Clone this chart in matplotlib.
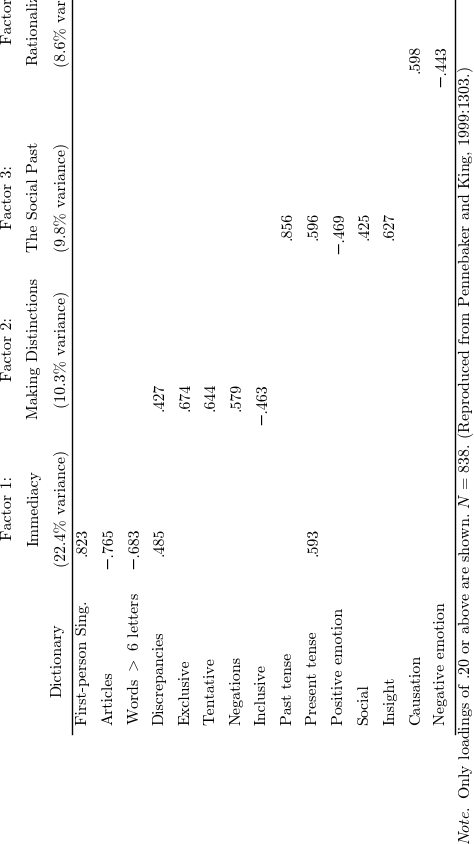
import matplotlib
matplotlib.use('Agg')
import matplotlib.pyplot as plt

plt.rcParams['mathtext.fontset'] = 'cm'
plt.rcParams['axes.unicode_minus'] = False

dictionaries = ['First-person Sing.', 'Articles', 'Words $>$ 6 letters', 'Discrepancies',
                'Exclusive', 'Tentative', 'Negations', 'Inclusive', 'Past tense',
                'Present tense', 'Positive emotion', 'Social', 'Insight', 'Causation',
                'Negative emotion']
factor_titles = ['Factor 1:', 'Factor 2:', 'Factor 3:', 'Factor 4:']
factor_names = ['Immediacy', 'Making Distinctions', 'The Social Past', 'Rationalization']
factor_variance = ['(22.4% variance)', '(10.3% variance)', '(9.8% variance)', '(8.6% variance)']
factor1 = ['.823', '-.765', '-.683', '.485', None, None, None, None, None, '.593',
           None, None, None, None, None]
factor2 = [None, None, None, '.427', '.674', '.644', '.579', '-.463', None, None,
           None, None, None, None, None]
factor3 = [None, None, None, None, None, None, None, None, '.856', '.596',
           '-.469', '.425', '.627', None, None]
factor4 = [None, None, None, None, None, None, None, None, None, None,
           None, None, None, '.598', '-.443']
note = (r'$\it{Note.}$ Only loadings of .20 or above are shown. $N$ = 838. '
        '(Reproduced from Pennebaker and King, 1999:1303.)')

FONT = ['cmr10', 'DejaVu Serif']
FS = 11.5

fig = plt.figure(figsize=(4.74, 8.45), dpi=100)
ax = fig.add_axes([0, 0, 1, 1])
ax.set_xlim(0, 474)
ax.set_ylim(845, 0)
ax.axis('off')


def txt(x, y, s, va='center', ha='center', **kw):
    s = s.replace('-', '\u2212') if s.startswith('-') else s
    ax.text(x, y, s, rotation=90, va=va, ha=ha, fontsize=FS, family=FONT, **kw)


# column positions along the image's vertical axis
col_y = [508, 349, 197, 12]
val_top = [528, 383, 212, 45]

for i in range(4):
    txt(8, col_y[i], factor_titles[i])
    txt(34, col_y[i], factor_names[i])
    txt(62, col_y[i], factor_variance[i])
txt(58, 660, 'Dictionary')

ax.plot([72, 72], [0, 735], color='black', lw=1.0)
ax.plot([455, 455], [0, 735], color='black', lw=1.0)

row_x = [83 + 25.6 * i for i in range(len(dictionaries))]
for x, name in zip(row_x, dictionaries):
    txt(x, 725, name, va='bottom')
for j, col in enumerate([factor1, factor2, factor3, factor4]):
    for x, v in zip(row_x, col):
        if v is not None:
            txt(x, val_top[j], v, va='top')

ax.text(466, 845, note, rotation=90, va='bottom', ha='center', fontsize=FS, family=FONT)

fig.savefig('out.png', dpi=100)
